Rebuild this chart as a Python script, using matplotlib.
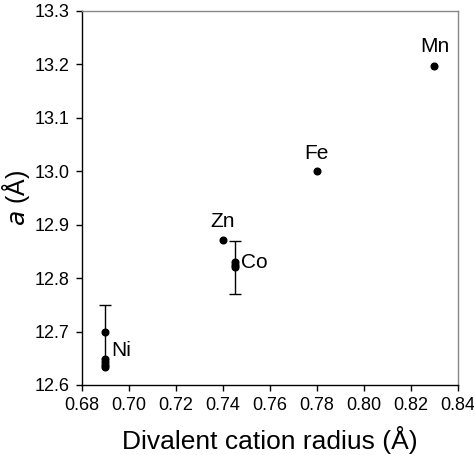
import matplotlib
matplotlib.use("Agg")
import matplotlib.pyplot as plt

plt.rcParams['font.family'] = ['Liberation Sans', 'DejaVu Sans']

# data
ni_x = [0.69, 0.69, 0.69, 0.69, 0.69]
ni_a = [12.70, 12.648, 12.643, 12.638, 12.633]
co_x = [0.745, 0.745, 0.745]
co_a = [12.82, 12.825, 12.83]
zn_x = [0.74]
zn_a = [12.872]
fe_x = [0.78]
fe_a = [13.0]
mn_x = [0.83]
mn_a = [13.197]

err_points_x = [0.69, 0.745]
err_points_a = [12.70, 12.82]
err_low = [0.065, 0.05]
err_high = [0.05, 0.05]

fig = plt.figure(figsize=(4.74, 4.55), dpi=100)
ax = fig.add_axes([0.173, 0.154, 0.793, 0.822])

# Co error bar with both caps
ax.errorbar(err_points_x[1:], err_points_a[1:], yerr=[err_low[1:], err_high[1:]], fmt='none',
            ecolor='black', elinewidth=1.0, capsize=4, capthick=1.0, zorder=2)
# Ni error bar: line without caps, upper cap only (lower end hidden by markers)
ax.errorbar(err_points_x[:1], err_points_a[:1], yerr=[err_low[:1], err_high[:1]], fmt='none',
            ecolor='black', elinewidth=1.0, capsize=0, zorder=2)
ax.plot(err_points_x[:1], [err_points_a[0] + err_high[0]], marker='_', markersize=8,
        markeredgewidth=1.0, color='black', zorder=2)
for xs, ys in [(ni_x, ni_a), (co_x, co_a), (zn_x, zn_a), (fe_x, fe_a), (mn_x, mn_a)]:
    ax.plot(xs, ys, 'o', color='black', markersize=4.8, zorder=3)

fs = 15
ax.text(0.83, 13.215, "Mn", ha='center', va='bottom', fontsize=fs)
ax.text(0.78, 13.015, "Fe", ha='center', va='bottom', fontsize=fs)
ax.text(0.74, 12.888, "Zn", ha='center', va='bottom', fontsize=fs)
ax.text(0.7475, 12.83, "Co", ha='left', va='center', fontsize=fs)
ax.text(0.6925, 12.665, "Ni", ha='left', va='center', fontsize=fs)

ax.set_xlim(0.68, 0.84)
ax.set_ylim(12.6, 13.3)
ax.set_xticks([0.68, 0.70, 0.72, 0.74, 0.76, 0.78, 0.80, 0.82, 0.84])
ax.set_xticklabels(["0.68", "0.70", "0.72", "0.74", "0.76", "0.78", "0.80", "0.82", "0.84"])
ax.set_yticks([12.6, 12.7, 12.8, 12.9, 13.0, 13.1, 13.2, 13.3])
ax.set_yticklabels(["12.6", "12.7", "12.8", "12.9", "13.0", "13.1", "13.2", "13.3"])
ax.tick_params(direction='out', length=4, width=1, labelsize=13, pad=5)
for s in ['top', 'right']:
    ax.spines[s].set_color('#888888')
    ax.spines[s].set_linewidth(1.0)
for s in ['left', 'bottom']:
    ax.spines[s].set_color('black')
    ax.spines[s].set_linewidth(1.0)

ax.set_xlabel("Divalent cation radius (Å)", fontsize=19, labelpad=8)
ax.set_ylabel("$\\mathit{a}$ (Å)", fontsize=18, labelpad=2)

fig.savefig("out.png", dpi=100)
